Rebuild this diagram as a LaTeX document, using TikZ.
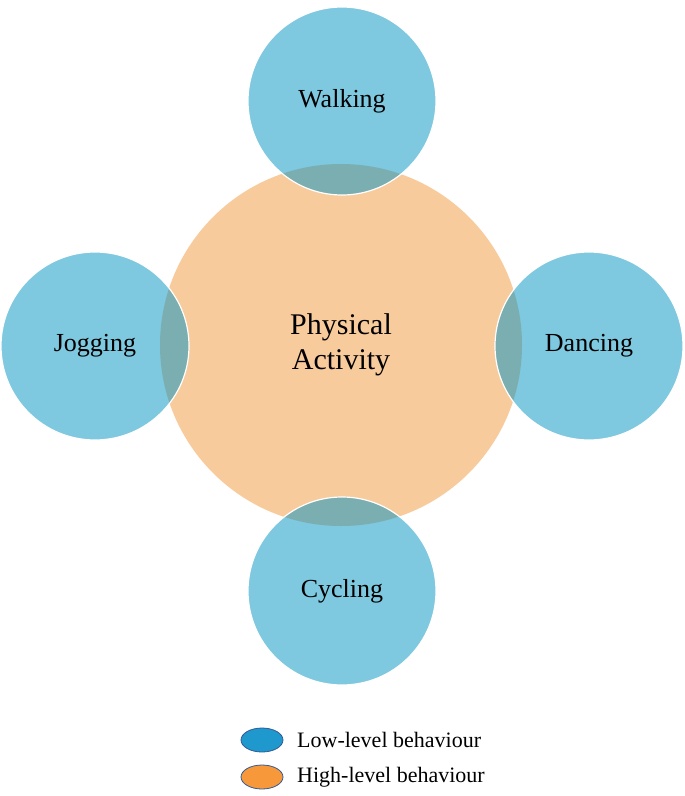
\documentclass[tikz,border=0pt]{standalone}
\usepackage{fontspec}
\usetikzlibrary{shapes.geometric}
\setmainfont{Liberation Serif}
\definecolor{cblue}{RGB}{7,149,195}
\definecolor{corange}{RGB}{248,203,157}
\definecolor{lblue}{RGB}{30,152,205}
\definecolor{lorange}{RGB}{247,152,58}
\definecolor{ledge}{RGB}{50,90,150}
\begin{document}
\begin{tikzpicture}[x=1pt,y=-1pt,
  bigc/.style={circle,fill=corange,minimum size=362pt,inner sep=0pt,font=\fontsize{30}{35}\selectfont,align=center},
  smallc/.style={circle,fill=cblue,fill opacity=0.52,text opacity=1,draw=white,line width=1.2pt,minimum size=188pt,inner sep=0pt,font=\fontsize{26}{30}\selectfont},
  legc/.style={ellipse,draw=ledge,line width=0.8pt,minimum width=42pt,minimum height=24pt,inner sep=0pt},
  legt/.style={anchor=west,inner sep=0pt,font=\fontsize{22}{26}\selectfont}]
\useasboundingbox (0,0) rectangle (685,796);
\node[bigc] (pa) at (341,345) {Physical\\Activity};
\node[smallc] (walk) at (342,101) {Walking};
\node[smallc] (jog) at (95,346) {Jogging};
\node[smallc] (dance) at (589,346) {Dancing};
\node[smallc] (cyc) at (342,591) {Cycling};
\node[legc,fill=lblue] (lowe) at (262,740) {};
\node[legt] (lowt) at (297,740) {Low-level behaviour};
\node[legc,fill=lorange] (highe) at (262,777) {};
\node[legt] (hight) at (297,777) {High-level behaviour};
\end{tikzpicture}
\end{document}
